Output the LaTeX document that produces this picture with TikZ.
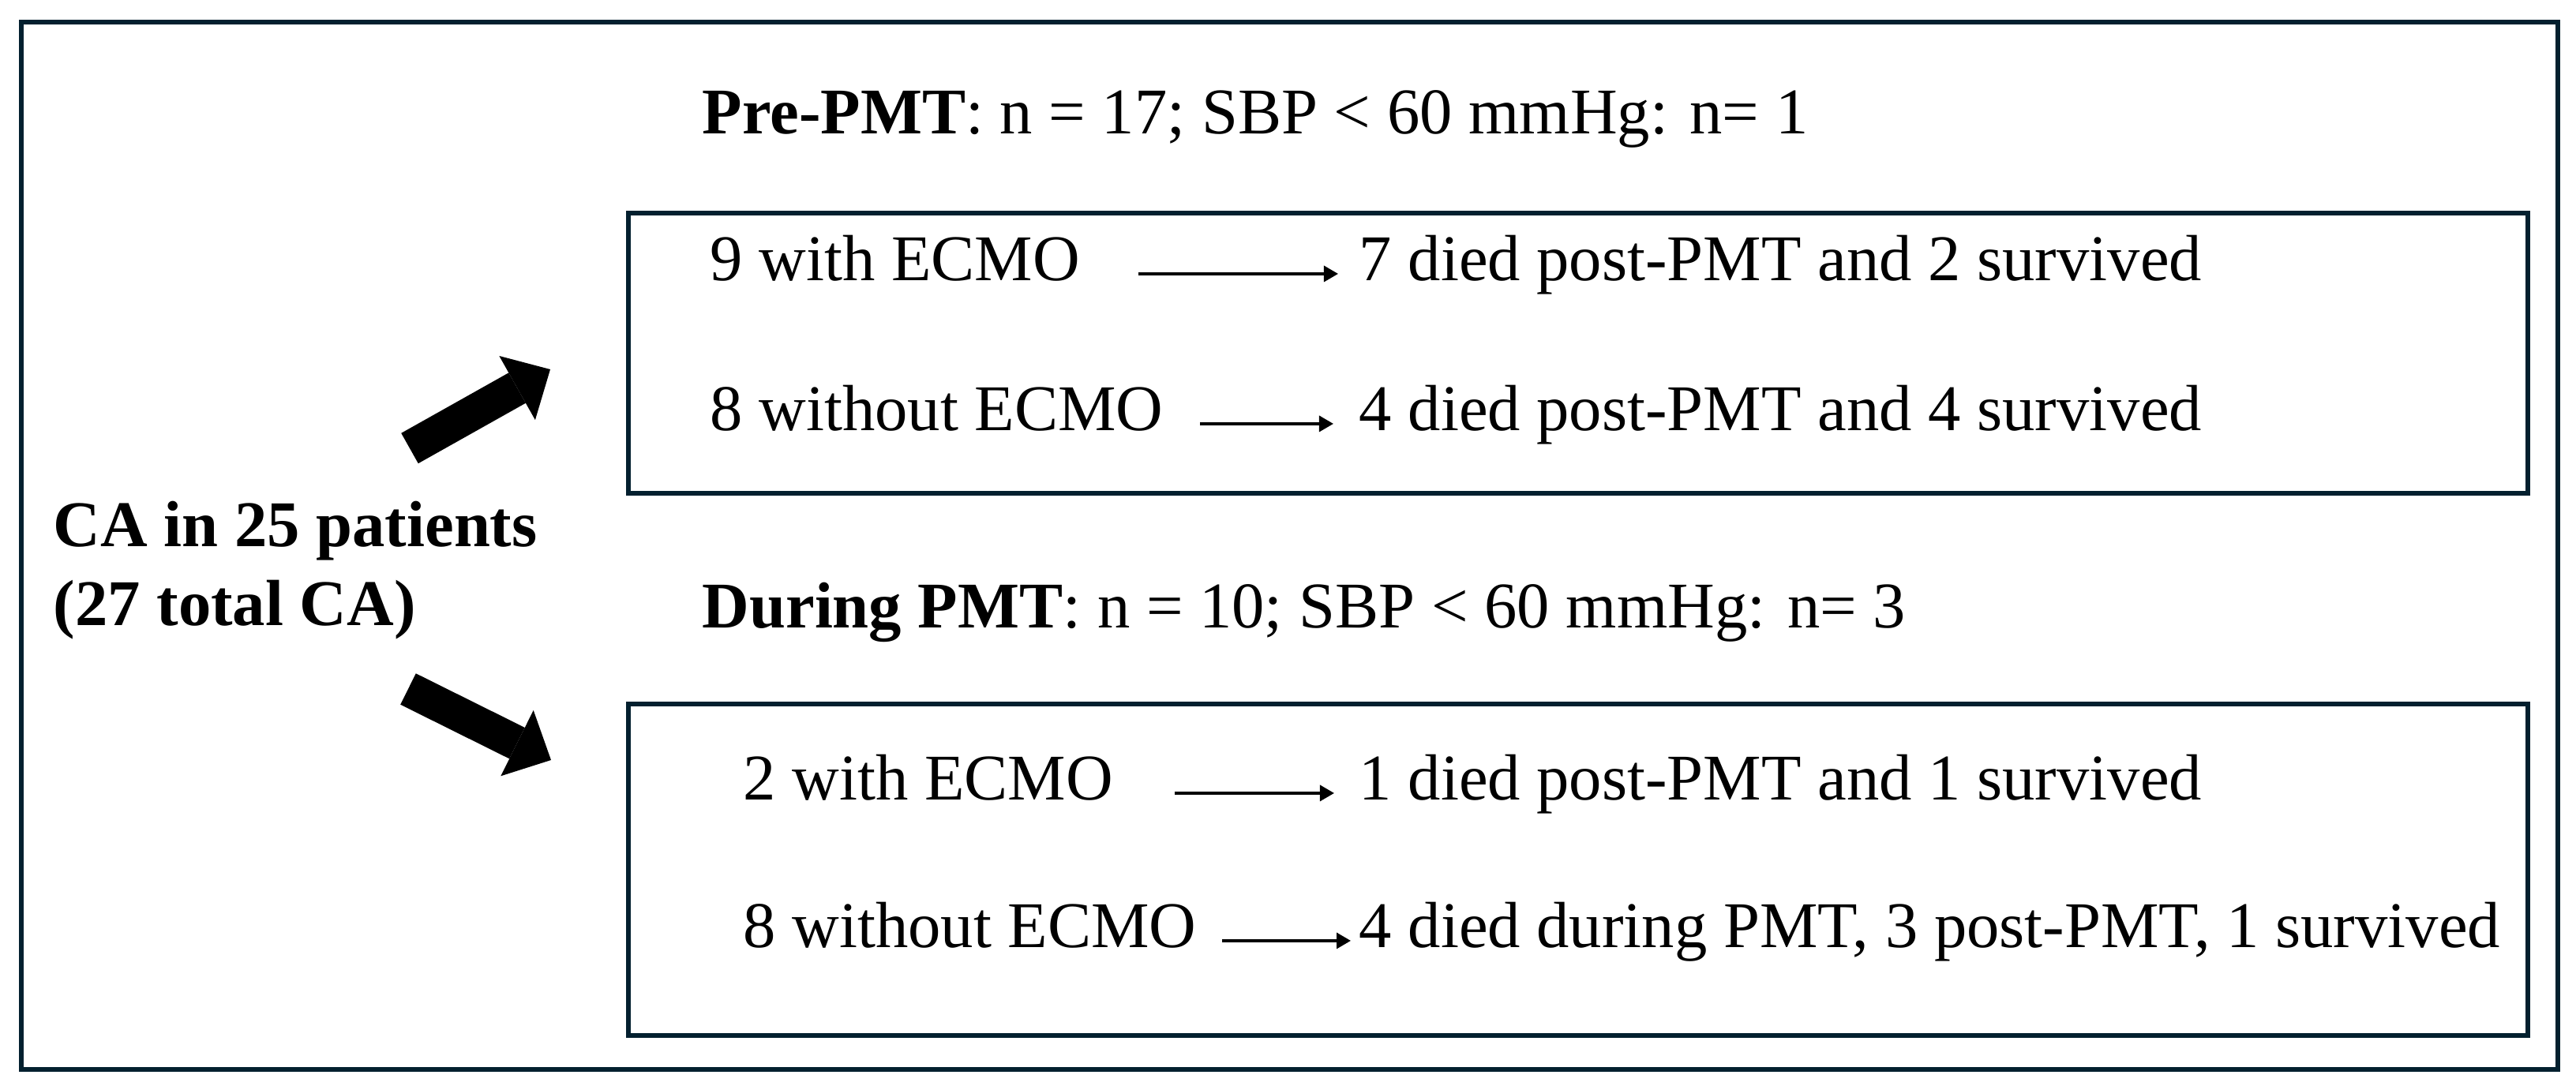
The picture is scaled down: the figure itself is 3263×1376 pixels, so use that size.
\documentclass[tikz,border=0pt]{standalone}
\usepackage{fontspec}
\setmainfont{Liberation Serif}
\usetikzlibrary{arrows.meta}
\definecolor{boxline}{RGB}{3,32,47}
\begin{document}
\begin{tikzpicture}[x=0.01cm, y=-0.01cm,
    txt/.style={anchor=base west, inner sep=0pt, font=\fontsize{23.5}{28.2}\selectfont},
    frame/.style={draw=boxline, line width=0.06cm},
    smallarr/.style={-{Triangle[length=0.18cm, width=0.2cm]}, line width=0.033cm},
    bigarr/.style={-{Triangle[length=0.48cm, width=0.93cm, line width=0pt]}, line width=0.44cm, draw=black}]
    \useasboundingbox (0,0) rectangle (3263,1376);
    % draw the frames
    \draw[frame] (27,28) rectangle (3240,1355);
    \draw[frame] (796,270) rectangle (3202,625);
    \draw[frame] (796,892) rectangle (3202,1312);
    % the texts (a node with two lines sits on its last line)
    \node[txt, align=left] (ca) at (67,792) {\textbf{CA in 25 patients}\\\textbf{(27 total CA)}};
    \node[txt] (pre) at (889,170) {\textbf{Pre-PMT}: n = 17; SBP < 60 mmHg: n= 1};
    \node[txt] (during) at (889,795) {\textbf{During PMT}: n = 10; SBP < 60 mmHg: n= 3};
    % the rows in the boxes
    \node[txt] (e1) at (899,355) {9 with ECMO};
    \node[txt] (d1) at (1721,355) {7 died post-PMT and 2 survived};
    \node[txt] (e2) at (899,545) {8 without ECMO};
    \node[txt] (d2) at (1721,545) {4 died post-PMT and 4 survived};
    \node[txt] (e3) at (941,1013) {2 with ECMO};
    \node[txt] (d3) at (1721,1013) {1 died post-PMT and 1 survived};
    \node[txt] (e4) at (941,1200) {8 without ECMO};
    \node[txt] (d4) at (1721,1200) {4 died during PMT, 3 post-PMT, 1 survived};
    % end points of the thick arrows
    \coordinate (up0) at (519,568);
    \coordinate (up1) at (697,468);
    \coordinate (dn0) at (517,873);
    \coordinate (dn1) at (698,963);
    % draw the arrows
    \draw[bigarr] (up0) -- (up1);
    \draw[bigarr] (dn0) -- (dn1);
    \draw[smallarr, shorten <=0.73cm, shorten >=0.26cm] (e1.mid east) -- (d1.mid west);
    \draw[smallarr, shorten <=0.46cm, shorten >=0.32cm] (e2.mid east) -- (d2.mid west);
    \draw[smallarr, shorten <=0.77cm, shorten >=0.31cm] (e3.mid east) -- (d3.mid west);
    \draw[smallarr, shorten <=0.32cm, shorten >=0.10cm] (e4.mid east) -- (d4.mid west);
\end{tikzpicture}
\end{document}
